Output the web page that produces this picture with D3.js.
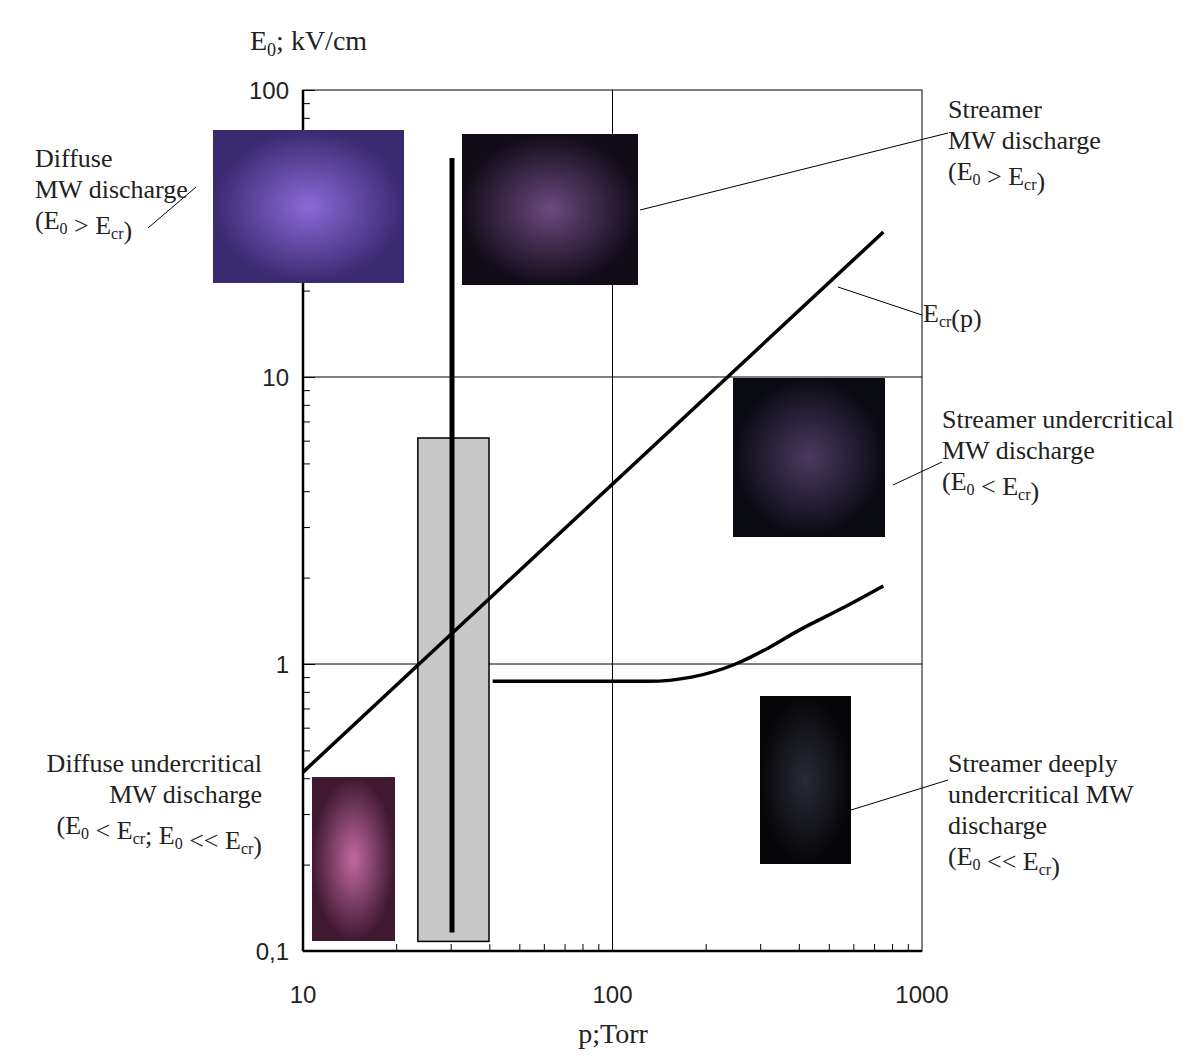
<!DOCTYPE html>
<html><head><meta charset="utf-8">
<script src="https://cdn.jsdelivr.net/npm/d3@7"></script>
<style>body{margin:0;background:#fff}text{font-family:"Liberation Serif","DejaVu Serif",serif;fill:#222}</style>
</head><body><svg id="c" width="1204" height="1059"></svg>
<script>
// critical field line E_cr(p)
var ecrP = [10, 750];
var ecrE = [0.42, 32];
// lower curve
var lowP = [41, 80, 130, 180, 250, 320, 400, 550, 750];
var lowE = [0.87, 0.87, 0.87, 0.9, 1.0, 1.14, 1.31, 1.56, 1.87];
// grey range box and vertical bar
var boxP = [23.5, 39.9], boxE = [0.108, 6.13];
var barP = 30.3, barE = [0.116, 57.9];
var xTicks = [10, 100, 1000], yTicks = [0.1, 1, 10, 100];
var yLabels = ["0,1", "1", "10", "100"];

var svg = d3.select("#c");
var x = d3.scaleLog().domain([10, 1000]).range([303, 922]);
var y = d3.scaleLog().domain([0.1, 100]).range([951, 90]);

// grid
svg.append("g").selectAll("line").data([100]).join("line")
  .attr("x1", d => x(d)).attr("x2", d => x(d)).attr("y1", y(100)).attr("y2", y(0.1)).attr("stroke", "#000");
svg.append("g").selectAll("line").data([1, 10]).join("line")
  .attr("x1", x(10)).attr("x2", x(1000)).attr("y1", d => y(d)).attr("y2", d => y(d)).attr("stroke", "#000");
svg.append("rect").attr("x", x(10)).attr("y", y(100)).attr("width", x(1000) - x(10)).attr("height", y(0.1) - y(100))
  .attr("fill", "none").attr("stroke", "#000");

// axes with inward minor ticks
var minorX = [], minorY = [];
[10, 100].forEach(b => { for (var k = 2; k < 10; k++) minorX.push(b * k); });
[0.1, 1, 10].forEach(b => { for (var k = 2; k < 10; k++) minorY.push(b * k); });
svg.append("g").attr("transform", "translate(0," + y(0.1) + ")")
  .call(d3.axisTop(x).tickValues(minorX).tickSize(7).tickFormat(""))
  .call(g => g.select(".domain").remove());
svg.append("g").attr("transform", "translate(" + x(10) + ",0)")
  .call(d3.axisRight(y).tickValues(minorY).tickSize(7).tickFormat(""))
  .call(g => g.select(".domain").remove());
svg.append("g").attr("transform", "translate(" + x(10) + ",0)")
  .call(d3.axisRight(y).tickValues(yTicks).tickSize(12).tickFormat(""))
  .call(g => g.select(".domain").remove());
svg.append("line").attr("x1", x(10)).attr("x2", x(10)).attr("y1", y(100)).attr("y2", y(0.1)).attr("stroke", "#000").attr("stroke-width", 2.5);
svg.append("line").attr("x1", x(10)).attr("x2", x(1000)).attr("y1", y(0.1)).attr("y2", y(0.1)).attr("stroke", "#000").attr("stroke-width", 2.5);

svg.append("g").selectAll("text").data(xTicks).join("text")
  .attr("x", d => x(d)).attr("y", 1003).attr("text-anchor", "middle")
  .style("font-family", "'Liberation Sans',Arial,sans-serif").style("font-size", "24px").text(d => d);
svg.append("g").selectAll("text").data(yTicks).join("text")
  .attr("x", 289).attr("y", d => y(d) + 9).attr("text-anchor", "end")
  .style("font-family", "'Liberation Sans',Arial,sans-serif").style("font-size", "24px").text((d, i) => yLabels[i]);
svg.append("text").attr("x", 613).attr("y", 1043).attr("text-anchor", "middle").style("font-size", "28px").text("p;Torr");
var yt = svg.append("text").attr("x", 250).attr("y", 50).style("font-size", "28px");
yt.append("tspan").text("E");
yt.append("tspan").attr("dy", 6).style("font-size", "18px").text("0");
yt.append("tspan").attr("dy", -6).text("; kV/cm");

// grey box and vertical bar
svg.append("rect").attr("x", x(boxP[0])).attr("y", y(boxE[1])).attr("width", x(boxP[1]) - x(boxP[0]))
  .attr("height", y(boxE[0]) - y(boxE[1])).attr("fill", "#c8c8c8").attr("stroke", "#000").attr("stroke-width", 1.5);
svg.append("line").attr("x1", x(barP)).attr("x2", x(barP)).attr("y1", y(barE[0])).attr("y2", y(barE[1]))
  .attr("stroke", "#000").attr("stroke-width", 5);

var line = d3.line().x(d => x(d[0])).y(d => y(d[1]));
svg.append("path").attr("d", line(ecrP.map((p, i) => [p, ecrE[i]]))).attr("fill", "none").attr("stroke", "#000").attr("stroke-width", 3.5);
svg.append("path").attr("d", d3.line().curve(d3.curveMonotoneX).x(d => x(d[0])).y(d => y(d[1]))(lowP.map((p, i) => [p, lowE[i]])))
  .attr("fill", "none").attr("stroke", "#000").attr("stroke-width", 3.5);

// photo placeholders
var defs = svg.append("defs");
function grad(id, c1, c2) {
  var g = defs.append("radialGradient").attr("id", id);
  g.append("stop").attr("offset", "0%").attr("stop-color", c1);
  g.append("stop").attr("offset", "100%").attr("stop-color", c2);
}
grad("g1", "#8a6ad8", "#3a2a70");
grad("g2", "#6a4a80", "#120c18");
grad("g3", "#4a3a60", "#0a0a12");
grad("g4", "#2a2a38", "#060608");
grad("g5", "#c06aa0", "#401830");
var photos = [[213, 130, 191, 153, "g1"], [462, 134, 176, 151, "g2"], [733, 378, 152, 159, "g3"], [760, 696, 91, 168, "g4"], [312, 777, 83, 164, "g5"]];
svg.append("g").selectAll("rect").data(photos).join("rect")
  .attr("x", d => d[0]).attr("y", d => d[1]).attr("width", d => d[2]).attr("height", d => d[3]).attr("fill", d => "url(#" + d[4] + ")");

// annotations
function label(lines, xx, yy, anchor) {
  var t = svg.append("text").attr("x", xx).attr("y", yy).attr("text-anchor", anchor).style("font-size", "26px");
  lines.forEach((l, i) => {
    var ts = t.append("tspan").attr("x", xx).attr("dy", i ? 31 : 0);
    l.forEach(s => {
      if (s[0] === "_") { ts.append("tspan").attr("dy", 5).style("font-size", "16px").text(s.slice(1)); ts.append("tspan").attr("dy", -5).text(""); }
      else ts.append("tspan").text(s);
    });
  });
}
label([["Diffuse"], ["MW discharge"], ["(E", "_0", " > E", "_cr", ")"]], 35, 167, "start");
label([["Streamer"], ["MW discharge"], ["(E", "_0", " > E", "_cr", ")"]], 948, 118, "start");
label([["E", "_cr", "(p)"]], 923, 322, "start");
label([["Streamer undercritical"], ["MW discharge"], ["(E", "_0", " < E", "_cr", ")"]], 942, 428, "start");
label([["Diffuse undercritical"], ["MW discharge"], ["(E", "_0", " < E", "_cr", "; E", "_0", " << E", "_cr", ")"]], 262, 772, "end");
label([["Streamer deeply"], ["undercritical MW"], ["discharge"], ["(E", "_0", " << E", "_cr", ")"]], 948, 772, "start");

var leaders = [[148, 228, 196, 187], [640, 210, 948, 133], [838, 287, 922, 315], [893, 485, 942, 462], [851, 810, 948, 780]];
svg.append("g").selectAll("line").data(leaders).join("line")
  .attr("x1", d => d[0]).attr("y1", d => d[1]).attr("x2", d => d[2]).attr("y2", d => d[3]).attr("stroke", "#000");
</script></body></html>
